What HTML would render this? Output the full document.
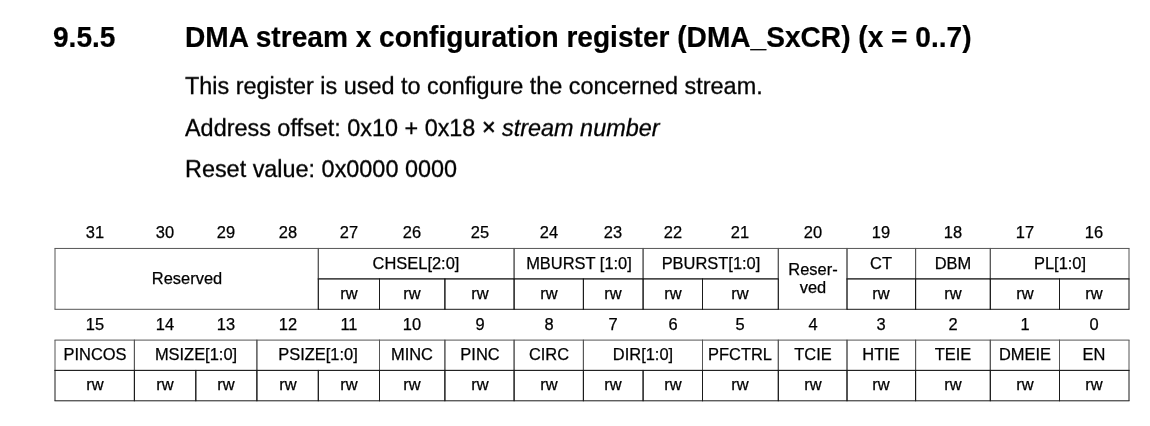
<!DOCTYPE html>
<html><head><meta charset="utf-8"><style>
html,body{margin:0;padding:0;background:#fff;}
body{width:1150px;height:426px;position:relative;overflow:hidden;font-family:"Liberation Sans",sans-serif;color:#000;}
.a{position:absolute;white-space:nowrap;line-height:1;will-change:transform;-webkit-text-stroke:0.3px #000;}
.c{position:absolute;white-space:nowrap;line-height:1;text-align:center;will-change:transform;-webkit-text-stroke:0.25px #000;}
.h{font-weight:bold;-webkit-text-stroke:0.2px #000;}
svg{position:absolute;left:0;top:0;}
svg line{stroke-width:1.0;} svg .l{stroke:#555;} svg .d{stroke:#1a1a1a;}
</style></head><body>
<div class="a h" style="left:52.80px;top:24.21px;font-size:28.1px;transform-origin:0 23.79px;transform:scale(1,1.08);">9.5.5</div>
<div class="a h" style="left:185.30px;top:24.21px;font-size:28.1px;transform-origin:0 23.79px;transform:scale(1,1.08);">DMA stream x configuration register (DMA_SxCR) (x = 0..7)</div>
<div class="a p" style="left:185.20px;top:75.27px;font-size:23.42px;transform-origin:0 19.83px;transform:scale(1,0.99);">This register is used to configure the concerned stream.</div>
<div class="a p" style="left:185.20px;top:116.77px;font-size:23.42px;transform-origin:0 19.83px;transform:scale(1,0.99);">Address offset: 0x10 + 0x18 <b style="font-weight:normal;position:relative;top:-1px;-webkit-text-stroke:0.6px #000">×</b> <i>stream number</i></div>
<div class="a p" style="left:185.20px;top:158.47px;font-size:23.42px;transform-origin:0 19.83px;transform:scale(1,0.99);">Reset value: 0x0000 0000</div>
<svg width="1150" height="426"><line class="l" x1="54.5" y1="248.45" x2="318.8" y2="248.45"/><line class="l" x1="54.5" y1="309.3" x2="318.8" y2="309.3"/><line class="l" x1="55.0" y1="248.45" x2="55.0" y2="309.3"/><line class="l" x1="318.3" y1="248.45" x2="318.3" y2="309.3"/><line class="l" x1="317.8" y1="248.45" x2="514.6" y2="248.45"/><line class="l" x1="317.8" y1="278.9" x2="514.6" y2="278.9"/><line class="l" x1="318.3" y1="248.45" x2="318.3" y2="278.9"/><line class="l" x1="514.1" y1="248.45" x2="514.1" y2="278.9"/><line class="l" x1="513.6" y1="248.45" x2="643.6" y2="248.45"/><line class="l" x1="513.6" y1="278.9" x2="643.6" y2="278.9"/><line class="l" x1="514.1" y1="248.45" x2="514.1" y2="278.9"/><line class="l" x1="643.1" y1="248.45" x2="643.1" y2="278.9"/><line class="l" x1="642.6" y1="248.45" x2="778.8" y2="248.45"/><line class="l" x1="642.6" y1="278.9" x2="778.8" y2="278.9"/><line class="l" x1="643.1" y1="248.45" x2="643.1" y2="278.9"/><line class="l" x1="778.3" y1="248.45" x2="778.3" y2="278.9"/><line class="l" x1="777.8" y1="248.45" x2="847.5" y2="248.45"/><line class="l" x1="777.8" y1="309.3" x2="847.5" y2="309.3"/><line class="l" x1="778.3" y1="248.45" x2="778.3" y2="309.3"/><line class="l" x1="847.0" y1="248.45" x2="847.0" y2="309.3"/><line class="l" x1="846.5" y1="248.45" x2="916.1" y2="248.45"/><line class="l" x1="846.5" y1="278.9" x2="916.1" y2="278.9"/><line class="l" x1="847.0" y1="248.45" x2="847.0" y2="278.9"/><line class="l" x1="915.6" y1="248.45" x2="915.6" y2="278.9"/><line class="l" x1="915.1" y1="248.45" x2="990.8" y2="248.45"/><line class="l" x1="915.1" y1="278.9" x2="990.8" y2="278.9"/><line class="l" x1="915.6" y1="248.45" x2="915.6" y2="278.9"/><line class="l" x1="990.3" y1="248.45" x2="990.3" y2="278.9"/><line class="l" x1="989.8" y1="248.45" x2="1129.5" y2="248.45"/><line class="l" x1="989.8" y1="278.9" x2="1129.5" y2="278.9"/><line class="l" x1="990.3" y1="248.45" x2="990.3" y2="278.9"/><line class="l" x1="1129.0" y1="248.45" x2="1129.0" y2="278.9"/><line class="d" x1="317.8" y1="278.9" x2="380.0" y2="278.9"/><line class="d" x1="317.8" y1="309.3" x2="380.0" y2="309.3"/><line class="d" x1="318.3" y1="278.9" x2="318.3" y2="309.3"/><line class="d" x1="379.5" y1="278.9" x2="379.5" y2="309.3"/><line class="d" x1="379.0" y1="278.9" x2="445.4" y2="278.9"/><line class="d" x1="379.0" y1="309.3" x2="445.4" y2="309.3"/><line class="d" x1="379.5" y1="278.9" x2="379.5" y2="309.3"/><line class="d" x1="444.9" y1="278.9" x2="444.9" y2="309.3"/><line class="d" x1="444.4" y1="278.9" x2="514.6" y2="278.9"/><line class="d" x1="444.4" y1="309.3" x2="514.6" y2="309.3"/><line class="d" x1="444.9" y1="278.9" x2="444.9" y2="309.3"/><line class="d" x1="514.1" y1="278.9" x2="514.1" y2="309.3"/><line class="d" x1="513.6" y1="278.9" x2="583.9" y2="278.9"/><line class="d" x1="513.6" y1="309.3" x2="583.9" y2="309.3"/><line class="d" x1="514.1" y1="278.9" x2="514.1" y2="309.3"/><line class="d" x1="583.4" y1="278.9" x2="583.4" y2="309.3"/><line class="d" x1="582.9" y1="278.9" x2="643.6" y2="278.9"/><line class="d" x1="582.9" y1="309.3" x2="643.6" y2="309.3"/><line class="d" x1="583.4" y1="278.9" x2="583.4" y2="309.3"/><line class="d" x1="643.1" y1="278.9" x2="643.1" y2="309.3"/><line class="d" x1="642.6" y1="278.9" x2="703.0" y2="278.9"/><line class="d" x1="642.6" y1="309.3" x2="703.0" y2="309.3"/><line class="d" x1="643.1" y1="278.9" x2="643.1" y2="309.3"/><line class="d" x1="702.5" y1="278.9" x2="702.5" y2="309.3"/><line class="d" x1="702.0" y1="278.9" x2="778.8" y2="278.9"/><line class="d" x1="702.0" y1="309.3" x2="778.8" y2="309.3"/><line class="d" x1="702.5" y1="278.9" x2="702.5" y2="309.3"/><line class="d" x1="778.3" y1="278.9" x2="778.3" y2="309.3"/><line class="d" x1="846.5" y1="278.9" x2="916.1" y2="278.9"/><line class="d" x1="846.5" y1="309.3" x2="916.1" y2="309.3"/><line class="d" x1="847.0" y1="278.9" x2="847.0" y2="309.3"/><line class="d" x1="915.6" y1="278.9" x2="915.6" y2="309.3"/><line class="d" x1="915.1" y1="278.9" x2="990.8" y2="278.9"/><line class="d" x1="915.1" y1="309.3" x2="990.8" y2="309.3"/><line class="d" x1="915.6" y1="278.9" x2="915.6" y2="309.3"/><line class="d" x1="990.3" y1="278.9" x2="990.3" y2="309.3"/><line class="d" x1="989.8" y1="278.9" x2="1060.0" y2="278.9"/><line class="d" x1="989.8" y1="309.3" x2="1060.0" y2="309.3"/><line class="d" x1="990.3" y1="278.9" x2="990.3" y2="309.3"/><line class="d" x1="1059.5" y1="278.9" x2="1059.5" y2="309.3"/><line class="d" x1="1059.0" y1="278.9" x2="1129.5" y2="278.9"/><line class="d" x1="1059.0" y1="309.3" x2="1129.5" y2="309.3"/><line class="d" x1="1059.5" y1="278.9" x2="1059.5" y2="309.3"/><line class="d" x1="1129.0" y1="278.9" x2="1129.0" y2="309.3"/><line class="l" x1="54.5" y1="340.1" x2="134.9" y2="340.1"/><line class="l" x1="54.5" y1="370.4" x2="134.9" y2="370.4"/><line class="l" x1="55.0" y1="340.1" x2="55.0" y2="370.4"/><line class="l" x1="134.4" y1="340.1" x2="134.4" y2="370.4"/><line class="l" x1="133.9" y1="340.1" x2="257.4" y2="340.1"/><line class="l" x1="133.9" y1="370.4" x2="257.4" y2="370.4"/><line class="l" x1="134.4" y1="340.1" x2="134.4" y2="370.4"/><line class="l" x1="256.9" y1="340.1" x2="256.9" y2="370.4"/><line class="l" x1="256.4" y1="340.1" x2="380.0" y2="340.1"/><line class="l" x1="256.4" y1="370.4" x2="380.0" y2="370.4"/><line class="l" x1="256.9" y1="340.1" x2="256.9" y2="370.4"/><line class="l" x1="379.5" y1="340.1" x2="379.5" y2="370.4"/><line class="l" x1="379.0" y1="340.1" x2="445.4" y2="340.1"/><line class="l" x1="379.0" y1="370.4" x2="445.4" y2="370.4"/><line class="l" x1="379.5" y1="340.1" x2="379.5" y2="370.4"/><line class="l" x1="444.9" y1="340.1" x2="444.9" y2="370.4"/><line class="l" x1="444.4" y1="340.1" x2="514.6" y2="340.1"/><line class="l" x1="444.4" y1="370.4" x2="514.6" y2="370.4"/><line class="l" x1="444.9" y1="340.1" x2="444.9" y2="370.4"/><line class="l" x1="514.1" y1="340.1" x2="514.1" y2="370.4"/><line class="l" x1="513.6" y1="340.1" x2="583.9" y2="340.1"/><line class="l" x1="513.6" y1="370.4" x2="583.9" y2="370.4"/><line class="l" x1="514.1" y1="340.1" x2="514.1" y2="370.4"/><line class="l" x1="583.4" y1="340.1" x2="583.4" y2="370.4"/><line class="l" x1="582.9" y1="340.1" x2="703.0" y2="340.1"/><line class="l" x1="582.9" y1="370.4" x2="703.0" y2="370.4"/><line class="l" x1="583.4" y1="340.1" x2="583.4" y2="370.4"/><line class="l" x1="702.5" y1="340.1" x2="702.5" y2="370.4"/><line class="l" x1="702.0" y1="340.1" x2="778.8" y2="340.1"/><line class="l" x1="702.0" y1="370.4" x2="778.8" y2="370.4"/><line class="l" x1="702.5" y1="340.1" x2="702.5" y2="370.4"/><line class="l" x1="778.3" y1="340.1" x2="778.3" y2="370.4"/><line class="l" x1="777.8" y1="340.1" x2="847.5" y2="340.1"/><line class="l" x1="777.8" y1="370.4" x2="847.5" y2="370.4"/><line class="l" x1="778.3" y1="340.1" x2="778.3" y2="370.4"/><line class="l" x1="847.0" y1="340.1" x2="847.0" y2="370.4"/><line class="l" x1="846.5" y1="340.1" x2="916.1" y2="340.1"/><line class="l" x1="846.5" y1="370.4" x2="916.1" y2="370.4"/><line class="l" x1="847.0" y1="340.1" x2="847.0" y2="370.4"/><line class="l" x1="915.6" y1="340.1" x2="915.6" y2="370.4"/><line class="l" x1="915.1" y1="340.1" x2="990.8" y2="340.1"/><line class="l" x1="915.1" y1="370.4" x2="990.8" y2="370.4"/><line class="l" x1="915.6" y1="340.1" x2="915.6" y2="370.4"/><line class="l" x1="990.3" y1="340.1" x2="990.3" y2="370.4"/><line class="l" x1="989.8" y1="340.1" x2="1060.0" y2="340.1"/><line class="l" x1="989.8" y1="370.4" x2="1060.0" y2="370.4"/><line class="l" x1="990.3" y1="340.1" x2="990.3" y2="370.4"/><line class="l" x1="1059.5" y1="340.1" x2="1059.5" y2="370.4"/><line class="l" x1="1059.0" y1="340.1" x2="1129.5" y2="340.1"/><line class="l" x1="1059.0" y1="370.4" x2="1129.5" y2="370.4"/><line class="l" x1="1059.5" y1="340.1" x2="1059.5" y2="370.4"/><line class="l" x1="1129.0" y1="340.1" x2="1129.0" y2="370.4"/><line class="d" x1="54.5" y1="370.4" x2="134.9" y2="370.4"/><line class="d" x1="54.5" y1="400.8" x2="134.9" y2="400.8"/><line class="d" x1="55.0" y1="370.4" x2="55.0" y2="400.8"/><line class="d" x1="134.4" y1="370.4" x2="134.4" y2="400.8"/><line class="d" x1="133.9" y1="370.4" x2="196.3" y2="370.4"/><line class="d" x1="133.9" y1="400.8" x2="196.3" y2="400.8"/><line class="d" x1="134.4" y1="370.4" x2="134.4" y2="400.8"/><line class="d" x1="195.8" y1="370.4" x2="195.8" y2="400.8"/><line class="d" x1="195.3" y1="370.4" x2="257.4" y2="370.4"/><line class="d" x1="195.3" y1="400.8" x2="257.4" y2="400.8"/><line class="d" x1="195.8" y1="370.4" x2="195.8" y2="400.8"/><line class="d" x1="256.9" y1="370.4" x2="256.9" y2="400.8"/><line class="d" x1="256.4" y1="370.4" x2="318.8" y2="370.4"/><line class="d" x1="256.4" y1="400.8" x2="318.8" y2="400.8"/><line class="d" x1="256.9" y1="370.4" x2="256.9" y2="400.8"/><line class="d" x1="318.3" y1="370.4" x2="318.3" y2="400.8"/><line class="d" x1="317.8" y1="370.4" x2="380.0" y2="370.4"/><line class="d" x1="317.8" y1="400.8" x2="380.0" y2="400.8"/><line class="d" x1="318.3" y1="370.4" x2="318.3" y2="400.8"/><line class="d" x1="379.5" y1="370.4" x2="379.5" y2="400.8"/><line class="d" x1="379.0" y1="370.4" x2="445.4" y2="370.4"/><line class="d" x1="379.0" y1="400.8" x2="445.4" y2="400.8"/><line class="d" x1="379.5" y1="370.4" x2="379.5" y2="400.8"/><line class="d" x1="444.9" y1="370.4" x2="444.9" y2="400.8"/><line class="d" x1="444.4" y1="370.4" x2="514.6" y2="370.4"/><line class="d" x1="444.4" y1="400.8" x2="514.6" y2="400.8"/><line class="d" x1="444.9" y1="370.4" x2="444.9" y2="400.8"/><line class="d" x1="514.1" y1="370.4" x2="514.1" y2="400.8"/><line class="d" x1="513.6" y1="370.4" x2="583.9" y2="370.4"/><line class="d" x1="513.6" y1="400.8" x2="583.9" y2="400.8"/><line class="d" x1="514.1" y1="370.4" x2="514.1" y2="400.8"/><line class="d" x1="583.4" y1="370.4" x2="583.4" y2="400.8"/><line class="d" x1="582.9" y1="370.4" x2="643.6" y2="370.4"/><line class="d" x1="582.9" y1="400.8" x2="643.6" y2="400.8"/><line class="d" x1="583.4" y1="370.4" x2="583.4" y2="400.8"/><line class="d" x1="643.1" y1="370.4" x2="643.1" y2="400.8"/><line class="d" x1="642.6" y1="370.4" x2="703.0" y2="370.4"/><line class="d" x1="642.6" y1="400.8" x2="703.0" y2="400.8"/><line class="d" x1="643.1" y1="370.4" x2="643.1" y2="400.8"/><line class="d" x1="702.5" y1="370.4" x2="702.5" y2="400.8"/><line class="d" x1="702.0" y1="370.4" x2="778.8" y2="370.4"/><line class="d" x1="702.0" y1="400.8" x2="778.8" y2="400.8"/><line class="d" x1="702.5" y1="370.4" x2="702.5" y2="400.8"/><line class="d" x1="778.3" y1="370.4" x2="778.3" y2="400.8"/><line class="d" x1="777.8" y1="370.4" x2="847.5" y2="370.4"/><line class="d" x1="777.8" y1="400.8" x2="847.5" y2="400.8"/><line class="d" x1="778.3" y1="370.4" x2="778.3" y2="400.8"/><line class="d" x1="847.0" y1="370.4" x2="847.0" y2="400.8"/><line class="d" x1="846.5" y1="370.4" x2="916.1" y2="370.4"/><line class="d" x1="846.5" y1="400.8" x2="916.1" y2="400.8"/><line class="d" x1="847.0" y1="370.4" x2="847.0" y2="400.8"/><line class="d" x1="915.6" y1="370.4" x2="915.6" y2="400.8"/><line class="d" x1="915.1" y1="370.4" x2="990.8" y2="370.4"/><line class="d" x1="915.1" y1="400.8" x2="990.8" y2="400.8"/><line class="d" x1="915.6" y1="370.4" x2="915.6" y2="400.8"/><line class="d" x1="990.3" y1="370.4" x2="990.3" y2="400.8"/><line class="d" x1="989.8" y1="370.4" x2="1060.0" y2="370.4"/><line class="d" x1="989.8" y1="400.8" x2="1060.0" y2="400.8"/><line class="d" x1="990.3" y1="370.4" x2="990.3" y2="400.8"/><line class="d" x1="1059.5" y1="370.4" x2="1059.5" y2="400.8"/><line class="d" x1="1059.0" y1="370.4" x2="1129.5" y2="370.4"/><line class="d" x1="1059.0" y1="400.8" x2="1129.5" y2="400.8"/><line class="d" x1="1059.5" y1="370.4" x2="1059.5" y2="400.8"/><line class="d" x1="1129.0" y1="370.4" x2="1129.0" y2="400.8"/></svg>
<div class="c" style="left:-5.30px;top:223.88px;width:200px;font-size:16.45px;transform-origin:50% 13.92px;transform:scaleY(1.0);">31</div>
<div class="c" style="left:65.10px;top:223.88px;width:200px;font-size:16.45px;transform-origin:50% 13.92px;transform:scaleY(1.0);">30</div>
<div class="c" style="left:126.35px;top:223.88px;width:200px;font-size:16.45px;transform-origin:50% 13.92px;transform:scaleY(1.0);">29</div>
<div class="c" style="left:187.60px;top:223.88px;width:200px;font-size:16.45px;transform-origin:50% 13.92px;transform:scaleY(1.0);">28</div>
<div class="c" style="left:248.90px;top:223.88px;width:200px;font-size:16.45px;transform-origin:50% 13.92px;transform:scaleY(1.0);">27</div>
<div class="c" style="left:312.20px;top:223.88px;width:200px;font-size:16.45px;transform-origin:50% 13.92px;transform:scaleY(1.0);">26</div>
<div class="c" style="left:379.50px;top:223.88px;width:200px;font-size:16.45px;transform-origin:50% 13.92px;transform:scaleY(1.0);">25</div>
<div class="c" style="left:448.75px;top:223.88px;width:200px;font-size:16.45px;transform-origin:50% 13.92px;transform:scaleY(1.0);">24</div>
<div class="c" style="left:513.25px;top:223.88px;width:200px;font-size:16.45px;transform-origin:50% 13.92px;transform:scaleY(1.0);">23</div>
<div class="c" style="left:572.80px;top:223.88px;width:200px;font-size:16.45px;transform-origin:50% 13.92px;transform:scaleY(1.0);">22</div>
<div class="c" style="left:640.40px;top:223.88px;width:200px;font-size:16.45px;transform-origin:50% 13.92px;transform:scaleY(1.0);">21</div>
<div class="c" style="left:712.65px;top:223.88px;width:200px;font-size:16.45px;transform-origin:50% 13.92px;transform:scaleY(1.0);">20</div>
<div class="c" style="left:781.30px;top:223.88px;width:200px;font-size:16.45px;transform-origin:50% 13.92px;transform:scaleY(1.0);">19</div>
<div class="c" style="left:852.95px;top:223.88px;width:200px;font-size:16.45px;transform-origin:50% 13.92px;transform:scaleY(1.0);">18</div>
<div class="c" style="left:924.90px;top:223.88px;width:200px;font-size:16.45px;transform-origin:50% 13.92px;transform:scaleY(1.0);">17</div>
<div class="c" style="left:994.25px;top:223.88px;width:200px;font-size:16.45px;transform-origin:50% 13.92px;transform:scaleY(1.0);">16</div>
<div class="c" style="left:86.65px;top:269.95px;width:200px;font-size:16.45px;transform-origin:50% 13.92px;transform:scaleY(1.0);">Reserved</div>
<div class="c" style="left:316.20px;top:254.75px;width:200px;font-size:16.45px;transform-origin:50% 13.92px;transform:scaleY(1.0);">CHSEL[2:0]</div>
<div class="c" style="left:478.60px;top:254.75px;width:200px;font-size:16.45px;transform-origin:50% 13.92px;transform:scaleY(1.0);">MBURST [1:0]</div>
<div class="c" style="left:610.70px;top:254.75px;width:200px;font-size:16.45px;transform-origin:50% 13.92px;transform:scaleY(1.0);">PBURST[1:0]</div>
<div class="c" style="left:712.65px;top:260.68px;width:200px;font-size:16.45px;transform-origin:50% 13.92px;transform:scaleY(1.0);">Reser-</div>
<div class="c" style="left:712.65px;top:279.08px;width:200px;font-size:16.45px;transform-origin:50% 13.92px;transform:scaleY(1.0);">ved</div>
<div class="c" style="left:781.30px;top:254.75px;width:200px;font-size:16.45px;transform-origin:50% 13.92px;transform:scaleY(1.0);">CT</div>
<div class="c" style="left:852.95px;top:254.75px;width:200px;font-size:16.45px;transform-origin:50% 13.92px;transform:scaleY(1.0);">DBM</div>
<div class="c" style="left:959.65px;top:254.75px;width:200px;font-size:16.45px;transform-origin:50% 13.92px;transform:scaleY(1.0);">PL[1:0]</div>
<div class="c" style="left:248.90px;top:284.98px;width:200px;font-size:16.45px;transform-origin:50% 13.92px;transform:scaleY(1.0);">rw</div>
<div class="c" style="left:312.20px;top:284.98px;width:200px;font-size:16.45px;transform-origin:50% 13.92px;transform:scaleY(1.0);">rw</div>
<div class="c" style="left:379.50px;top:284.98px;width:200px;font-size:16.45px;transform-origin:50% 13.92px;transform:scaleY(1.0);">rw</div>
<div class="c" style="left:448.75px;top:284.98px;width:200px;font-size:16.45px;transform-origin:50% 13.92px;transform:scaleY(1.0);">rw</div>
<div class="c" style="left:513.25px;top:284.98px;width:200px;font-size:16.45px;transform-origin:50% 13.92px;transform:scaleY(1.0);">rw</div>
<div class="c" style="left:572.80px;top:284.98px;width:200px;font-size:16.45px;transform-origin:50% 13.92px;transform:scaleY(1.0);">rw</div>
<div class="c" style="left:640.40px;top:284.98px;width:200px;font-size:16.45px;transform-origin:50% 13.92px;transform:scaleY(1.0);">rw</div>
<div class="c" style="left:781.30px;top:284.98px;width:200px;font-size:16.45px;transform-origin:50% 13.92px;transform:scaleY(1.0);">rw</div>
<div class="c" style="left:852.95px;top:284.98px;width:200px;font-size:16.45px;transform-origin:50% 13.92px;transform:scaleY(1.0);">rw</div>
<div class="c" style="left:924.90px;top:284.98px;width:200px;font-size:16.45px;transform-origin:50% 13.92px;transform:scaleY(1.0);">rw</div>
<div class="c" style="left:994.25px;top:284.98px;width:200px;font-size:16.45px;transform-origin:50% 13.92px;transform:scaleY(1.0);">rw</div>
<div class="c" style="left:-5.30px;top:315.78px;width:200px;font-size:16.45px;transform-origin:50% 13.92px;transform:scaleY(1.0);">15</div>
<div class="c" style="left:65.10px;top:315.78px;width:200px;font-size:16.45px;transform-origin:50% 13.92px;transform:scaleY(1.0);">14</div>
<div class="c" style="left:126.35px;top:315.78px;width:200px;font-size:16.45px;transform-origin:50% 13.92px;transform:scaleY(1.0);">13</div>
<div class="c" style="left:187.60px;top:315.78px;width:200px;font-size:16.45px;transform-origin:50% 13.92px;transform:scaleY(1.0);">12</div>
<div class="c" style="left:248.90px;top:315.78px;width:200px;font-size:16.45px;transform-origin:50% 13.92px;transform:scaleY(1.0);">11</div>
<div class="c" style="left:312.20px;top:315.78px;width:200px;font-size:16.45px;transform-origin:50% 13.92px;transform:scaleY(1.0);">10</div>
<div class="c" style="left:379.50px;top:315.78px;width:200px;font-size:16.45px;transform-origin:50% 13.92px;transform:scaleY(1.0);">9</div>
<div class="c" style="left:448.75px;top:315.78px;width:200px;font-size:16.45px;transform-origin:50% 13.92px;transform:scaleY(1.0);">8</div>
<div class="c" style="left:513.25px;top:315.78px;width:200px;font-size:16.45px;transform-origin:50% 13.92px;transform:scaleY(1.0);">7</div>
<div class="c" style="left:572.80px;top:315.78px;width:200px;font-size:16.45px;transform-origin:50% 13.92px;transform:scaleY(1.0);">6</div>
<div class="c" style="left:640.40px;top:315.78px;width:200px;font-size:16.45px;transform-origin:50% 13.92px;transform:scaleY(1.0);">5</div>
<div class="c" style="left:712.65px;top:315.78px;width:200px;font-size:16.45px;transform-origin:50% 13.92px;transform:scaleY(1.0);">4</div>
<div class="c" style="left:781.30px;top:315.78px;width:200px;font-size:16.45px;transform-origin:50% 13.92px;transform:scaleY(1.0);">3</div>
<div class="c" style="left:852.95px;top:315.78px;width:200px;font-size:16.45px;transform-origin:50% 13.92px;transform:scaleY(1.0);">2</div>
<div class="c" style="left:924.90px;top:315.78px;width:200px;font-size:16.45px;transform-origin:50% 13.92px;transform:scaleY(1.0);">1</div>
<div class="c" style="left:994.25px;top:315.78px;width:200px;font-size:16.45px;transform-origin:50% 13.92px;transform:scaleY(1.0);">0</div>
<div class="c" style="left:-5.30px;top:346.32px;width:200px;font-size:16.45px;transform-origin:50% 13.92px;transform:scaleY(1.0);">PINCOS</div>
<div class="c" style="left:95.65px;top:346.32px;width:200px;font-size:16.45px;transform-origin:50% 13.92px;transform:scaleY(1.0);">MSIZE[1:0]</div>
<div class="c" style="left:218.20px;top:346.32px;width:200px;font-size:16.45px;transform-origin:50% 13.92px;transform:scaleY(1.0);">PSIZE[1:0]</div>
<div class="c" style="left:312.20px;top:346.32px;width:200px;font-size:16.45px;transform-origin:50% 13.92px;transform:scaleY(1.0);">MINC</div>
<div class="c" style="left:379.50px;top:346.32px;width:200px;font-size:16.45px;transform-origin:50% 13.92px;transform:scaleY(1.0);">PINC</div>
<div class="c" style="left:448.75px;top:346.32px;width:200px;font-size:16.45px;transform-origin:50% 13.92px;transform:scaleY(1.0);">CIRC</div>
<div class="c" style="left:542.95px;top:346.32px;width:200px;font-size:16.45px;transform-origin:50% 13.92px;transform:scaleY(1.0);">DIR[1:0]</div>
<div class="c" style="left:640.40px;top:346.32px;width:200px;font-size:16.45px;transform-origin:50% 13.92px;transform:scaleY(1.0);">PFCTRL</div>
<div class="c" style="left:712.65px;top:346.32px;width:200px;font-size:16.45px;transform-origin:50% 13.92px;transform:scaleY(1.0);">TCIE</div>
<div class="c" style="left:781.30px;top:346.32px;width:200px;font-size:16.45px;transform-origin:50% 13.92px;transform:scaleY(1.0);">HTIE</div>
<div class="c" style="left:852.95px;top:346.32px;width:200px;font-size:16.45px;transform-origin:50% 13.92px;transform:scaleY(1.0);">TEIE</div>
<div class="c" style="left:924.90px;top:346.32px;width:200px;font-size:16.45px;transform-origin:50% 13.92px;transform:scaleY(1.0);">DMEIE</div>
<div class="c" style="left:994.25px;top:346.32px;width:200px;font-size:16.45px;transform-origin:50% 13.92px;transform:scaleY(1.0);">EN</div>
<div class="c" style="left:-5.30px;top:376.48px;width:200px;font-size:16.45px;transform-origin:50% 13.92px;transform:scaleY(1.0);">rw</div>
<div class="c" style="left:65.10px;top:376.48px;width:200px;font-size:16.45px;transform-origin:50% 13.92px;transform:scaleY(1.0);">rw</div>
<div class="c" style="left:126.35px;top:376.48px;width:200px;font-size:16.45px;transform-origin:50% 13.92px;transform:scaleY(1.0);">rw</div>
<div class="c" style="left:187.60px;top:376.48px;width:200px;font-size:16.45px;transform-origin:50% 13.92px;transform:scaleY(1.0);">rw</div>
<div class="c" style="left:248.90px;top:376.48px;width:200px;font-size:16.45px;transform-origin:50% 13.92px;transform:scaleY(1.0);">rw</div>
<div class="c" style="left:312.20px;top:376.48px;width:200px;font-size:16.45px;transform-origin:50% 13.92px;transform:scaleY(1.0);">rw</div>
<div class="c" style="left:379.50px;top:376.48px;width:200px;font-size:16.45px;transform-origin:50% 13.92px;transform:scaleY(1.0);">rw</div>
<div class="c" style="left:448.75px;top:376.48px;width:200px;font-size:16.45px;transform-origin:50% 13.92px;transform:scaleY(1.0);">rw</div>
<div class="c" style="left:513.25px;top:376.48px;width:200px;font-size:16.45px;transform-origin:50% 13.92px;transform:scaleY(1.0);">rw</div>
<div class="c" style="left:572.80px;top:376.48px;width:200px;font-size:16.45px;transform-origin:50% 13.92px;transform:scaleY(1.0);">rw</div>
<div class="c" style="left:640.40px;top:376.48px;width:200px;font-size:16.45px;transform-origin:50% 13.92px;transform:scaleY(1.0);">rw</div>
<div class="c" style="left:712.65px;top:376.48px;width:200px;font-size:16.45px;transform-origin:50% 13.92px;transform:scaleY(1.0);">rw</div>
<div class="c" style="left:781.30px;top:376.48px;width:200px;font-size:16.45px;transform-origin:50% 13.92px;transform:scaleY(1.0);">rw</div>
<div class="c" style="left:852.95px;top:376.48px;width:200px;font-size:16.45px;transform-origin:50% 13.92px;transform:scaleY(1.0);">rw</div>
<div class="c" style="left:924.90px;top:376.48px;width:200px;font-size:16.45px;transform-origin:50% 13.92px;transform:scaleY(1.0);">rw</div>
<div class="c" style="left:994.25px;top:376.48px;width:200px;font-size:16.45px;transform-origin:50% 13.92px;transform:scaleY(1.0);">rw</div>
</body></html>
